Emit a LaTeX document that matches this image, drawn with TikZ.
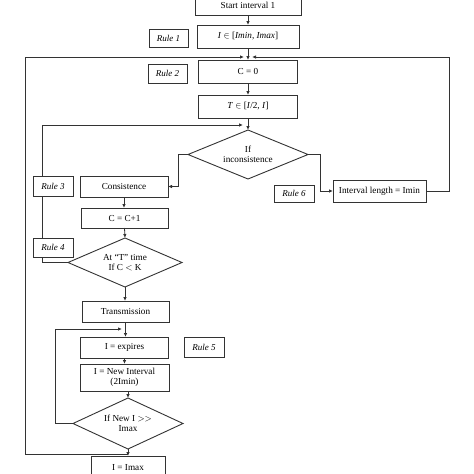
\documentclass[tikz,border=0pt]{standalone}
\usepackage{fontspec}
\setmainfont{Liberation Serif}
\usetikzlibrary{shapes.geometric,arrows.meta,positioning,calc}
\tikzstyle{block} = [rectangle, draw, fill=white, text=black, text centered, inner sep=0pt, outer sep=0pt, line width=0.9pt, font=\fontsize{9.2}{10.5}\selectfont]
\tikzstyle{rulebox} = [rectangle, draw, fill=white, text=black, text centered, inner sep=0pt, outer sep=0pt, line width=0.9pt, font=\fontsize{9}{10}\selectfont\itshape]
\tikzstyle{decision} = [diamond, draw, fill=white, text=black, align=center, aspect=2.4, inner sep=0pt, outer sep=0pt, line width=0.9pt, font=\fontsize{9.2}{10.5}\selectfont]
\tikzstyle{line} = [draw, line width=0.8pt, -{Latex[length=4pt,width=3.5pt]}]

\begin{document}
\begin{tikzpicture}[x=1pt, y=-1pt, color=black!80]
    \useasboundingbox (0,0) rectangle (474,474);

    % main column
    \node[block, minimum width=106pt, minimum height=19pt] (start) at (248,5.5) {Start interval 1};
    \node[block, minimum width=102pt, minimum height=23pt] (iset) at (248,36.5) {\textit{I} $\in$ [\textit{Imin, Imax}]};
    \node[block, minimum width=99pt, minimum height=23pt] (czero) at (248,71.5) {C = 0};
    \node[block, minimum width=99pt, minimum height=23pt] (tset) at (248,106.5) {\textit{T} $\in$ [\textit{I}/2, \textit{I}]};
    \node[decision, minimum width=120pt, minimum height=49pt] (dinc) at (248,154.5) {If\\inconsistence};
    \node[block, minimum width=88pt, minimum height=21pt] (cons) at (124,186.5) {Consistence};
    \node[block, minimum width=93pt, minimum height=22pt] (ilen) at (379.5,191) {Interval length = Imin};
    \node[block, minimum width=87pt, minimum height=20pt] (cinc) at (124.5,218) {C = C+1};
    \node[decision, minimum width=114pt, minimum height=49pt] (dtime) at (125,262.5) {At ``T'' time\\If C $<$ K};
    \node[block, minimum width=87pt, minimum height=21pt] (trans) at (125.5,311.5) {Transmission};
    \node[block, minimum width=88pt, minimum height=21pt] (iexp) at (124.5,347.5) {I = expires};
    \node[block, minimum width=89pt, minimum height=27pt, align=center] (inew) at (124.5,377.5) {I = New Interval\\(2Imin)};
    \node[decision, minimum width=110pt, minimum height=51pt] (dnew) at (128,423.5) {If New I $>>$\\Imax};
    \node[block, minimum width=74pt, minimum height=24pt] (imax) at (128,468) {I = Imax};

    \coordinate (topl) at (244,57);
    \coordinate (topr) at (252,57);
    \coordinate (join) at (128,454);

    % arrows down the column
    \path[line] (start.south) -- (start.south |- iset.north);
    \path[line] (iset.south) -- (iset.south |- czero.north);
    \path[line] (czero.south) -- (czero.south |- tset.north);
    \path[line] (tset.south) -- (dinc.north);
    \path[line] (cons.south) -- (cons.south |- cinc.north);
    \path[line] (cinc.south) -- (dtime.north);
    \path[line] (dtime.south) -- (dtime.south |- trans.north);
    \path[line] (trans.south) -- (trans.south |- iexp.north);
    \path[line] (iexp.south) -- (iexp.south |- inew.north);
    \path[line] (inew.south -| dnew.north) -- (dnew.north);
    \path[line] (dnew.south) -- (imax.north);

    % branches and loops
    \path[line] (dinc.west) -- ++(-10,0) |- (cons.east);
    \path[line] (dinc.east) -- ++(12,0) |- (ilen.west);
    \path[line] (ilen.east) -| (449,57) -- (topr);
    \path[line] (dtime.west) -| (42,125) -- (243,125);
    \path[line] (dnew.west) -| (55,329) -- (122,329);
    \path[line] (join) -| (25,57) -- (topl);

    % rules
    \node[rulebox, minimum width=39pt, minimum height=18pt] (r1) at (168.5,38) {Rule 1};
    \node[rulebox, minimum width=39pt, minimum height=19pt] (r2) at (167.5,73.5) {Rule 2};
    \node[rulebox, minimum width=40pt, minimum height=20pt] (r3) at (53,186) {Rule 3};
    \node[rulebox, minimum width=40pt, minimum height=19pt] (r4) at (53,247.5) {Rule 4};
    \node[rulebox, minimum width=40pt, minimum height=20pt] (r5) at (204,347) {Rule 5};
    \node[rulebox, minimum width=40pt, minimum height=17pt] (r6) at (294,193.5) {Rule 6};
\end{tikzpicture}
\end{document}
